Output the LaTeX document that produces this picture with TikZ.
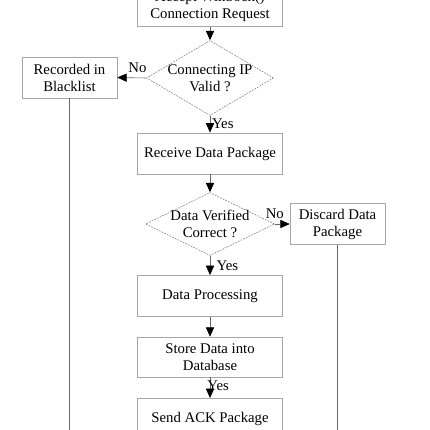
\documentclass[tikz,border=0pt]{standalone}
\usepackage{fontspec}
\setmainfont{Liberation Serif}
\usetikzlibrary{shapes.geometric,arrows.meta}

\begin{document}
\begin{tikzpicture}[x=0.03cm, y=-0.03cm, font=\fontsize{12.6}{14.5}\selectfont,
	box/.style={draw=gray!70, line width=0.5pt, align=center, minimum width=4.35cm, minimum height=1.24cm, inner sep=0pt},
	sidebox/.style={box, minimum width=2.85cm},
	decision/.style={diamond, draw=gray, line width=0.5pt, dash pattern=on 1.5pt off 1pt, inner sep=0pt},
	flow/.style={draw=gray!80!black, line width=0.5pt, -{Triangle[length=8pt,width=7pt,color=black]}},
	tag/.style={inner sep=1.5pt}]

\useasboundingbox (0,0) rectangle (430,430);

\node[box] (accept) at (210,6) {Accept WinSock()\\Connection Request};
\node[decision, minimum width=3.81cm, minimum height=2.25cm,
	label={[align=center]center:{Connecting IP\\Valid ?}}] (connvalid) at (210,78) {};
\node[sidebox] (blacklist) at (69.5,77.5) {Recorded in\\Blacklist};
\node[box] (receive) at (210,153.5) {Receive Data Package};
\node[decision, minimum width=3.87cm, minimum height=1.89cm,
	label={[align=center]center:{Data Verified\\Correct ?}}] (verify) at (210,224) {};
\node[sidebox] (discard) at (337.5,224) {Discard Data\\Package};
\node[box] (process) at (210,296) {Data Processing};
\node[box, minimum height=1.2cm] (store) at (210,357) {Store Data into\\Database};
\node[box] (ack) at (210,419) {Send ACK Package};

\coordinate (blackend) at (69.5,445);
\coordinate (discardend) at (337.5,445);

\draw[flow] (accept) -- (connvalid);
\draw[flow] (connvalid.west) -- node[tag, anchor=south east, pos=0, xshift=2pt, yshift=3pt] {No} (blacklist.east);
\draw[flow] (connvalid) -- node[tag, right] {Yes} (receive);
\draw[flow] (receive) -- (verify);
\draw[flow] (verify.east) -- node[tag, anchor=south, pos=0, yshift=3pt] {No} (discard.west);
\draw[flow] (verify) -- node[tag, right, xshift=4pt] {Yes} (process);
\draw[flow] (process) -- (store);
\draw[flow] (store) -- node[tag, right, xshift=-4pt, pos=0.4] {Yes} (ack);
\draw[gray!80!black, line width=0.5pt] (blacklist) -- (blackend);
\draw[gray!80!black, line width=0.5pt] (discard) -- (discardend);

\end{tikzpicture}
\end{document}
